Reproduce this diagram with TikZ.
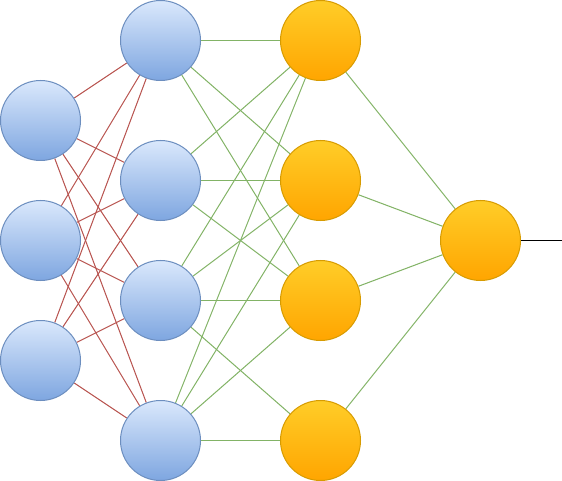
\documentclass[tikz,border=0pt]{standalone}
\usetikzlibrary{backgrounds}
\definecolor{bluetop}{HTML}{DAE8FC}
\definecolor{bluebot}{HTML}{7EA6E0}
\definecolor{bluestroke}{HTML}{6C8EBF}
\definecolor{orgtop}{HTML}{FFCD28}
\definecolor{orgbot}{HTML}{FFA500}
\definecolor{orgstroke}{HTML}{D79B00}
\definecolor{redline}{HTML}{B85450}
\definecolor{greenline}{HTML}{82B366}
\tikzset{
  neuronblue/.style={circle, minimum size=80pt, inner sep=0pt, draw=bluestroke, line width=1pt, top color=bluetop, bottom color=bluebot},
  neuronorange/.style={circle, minimum size=80pt, inner sep=0pt, draw=orgstroke, line width=1pt, top color=orgtop, bottom color=orgbot},
  rededge/.style={draw=redline, line width=1pt},
  greenedge/.style={draw=greenline, line width=1pt},
  outedge/.style={draw=black, line width=1pt}
}
\begin{document}
\begin{tikzpicture}[x=1pt,y=-1pt]
\useasboundingbox (0,0) rectangle (562,481);
\node[neuronblue] (i1) at (40.5,120.5) {};
\node[neuronblue] (i2) at (40.5,240.5) {};
\node[neuronblue] (i3) at (40.5,360.5) {};
\node[neuronblue] (a1) at (160.5,40.5) {};
\node[neuronblue] (a2) at (160.5,180.5) {};
\node[neuronblue] (a3) at (160.5,300.5) {};
\node[neuronblue] (a4) at (160.5,440.5) {};
\node[neuronorange] (b1) at (320.5,40.5) {};
\node[neuronorange] (b2) at (320.5,180.5) {};
\node[neuronorange] (b3) at (320.5,300.5) {};
\node[neuronorange] (b4) at (320.5,440.5) {};
\node[neuronorange] (o) at (480.5,240.5) {};
\coordinate (out) at (562,240.5);
\begin{scope}[on background layer]
\foreach \i in {i1,i2,i3}{
  \foreach \a in {a1,a2,a3,a4}{
    \draw[rededge] (\i) -- (\a);
  }
}
\foreach \a in {a1,a2}{
  \foreach \b in {b1,b2,b3}{
    \draw[greenedge] (\a) -- (\b);
  }
}
\foreach \a in {a3,a4}{
  \foreach \b in {b1,b2,b3,b4}{
    \draw[greenedge] (\a) -- (\b);
  }
}
\foreach \b in {b1,b2,b3,b4}{
  \draw[greenedge] (\b) -- (o);
}
\end{scope}
\draw[outedge] (o) -- (out);
\end{tikzpicture}
\end{document}
